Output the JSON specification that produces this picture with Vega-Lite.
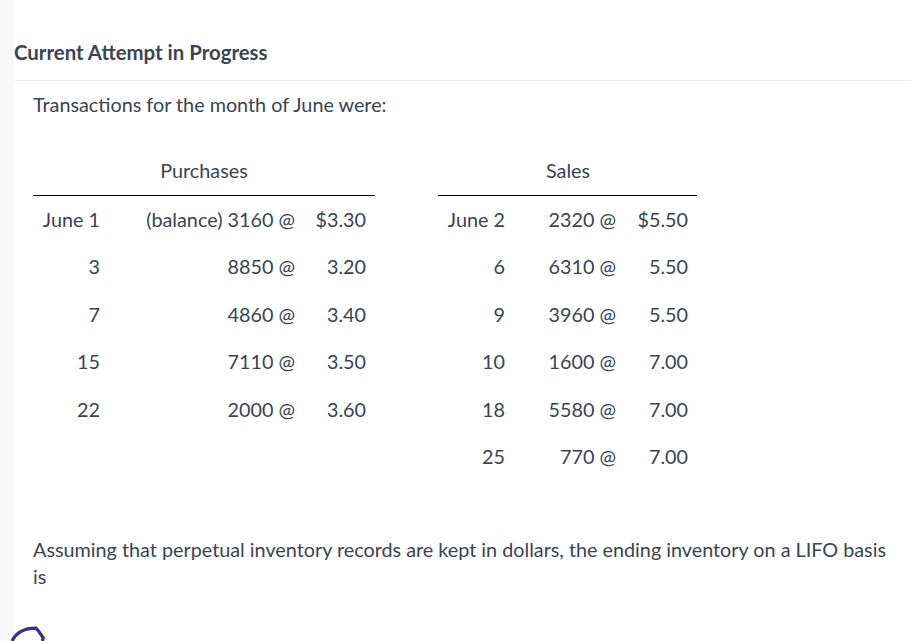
{
  "$schema": "https://vega.github.io/schema/vega-lite/v6.json",
  "width": 911,
  "height": 641,
  "padding": 0,
  "autosize": {"type": "fit", "contains": "padding"},
  "background": "white",
  "view": {"stroke": null},
  "config": {"text": {"font": "Lato", "fontSize": 19.8, "color": "#3a4452", "baseline": "alphabetic"}},
  "datasets": {
    "page": [
      {"style": "heading", "line": 1, "col": 1, "text": "Current Attempt in Progress"},
      {"style": "body", "line": 3, "col": 2, "text": "Transactions for the month of June were:"},
      {"style": "body", "line": 12, "col": 2, "text": "Assuming that perpetual inventory records are kept in dollars, the ending inventory on a LIFO basis"},
      {"style": "body", "line": 13, "col": 2, "text": "is"}
    ],
    "cells": [
      {"line": 4, "col": 4, "text": "Purchases", "align": "center"},
      {"line": 4, "col": 10, "text": "Sales", "align": "center"},
      {"line": 6, "col": 3, "text": "June 1"},
      {"line": 6, "col": 5, "text": "(balance) 3160 @"},
      {"line": 6, "col": 6, "text": "$3.30"},
      {"line": 7, "col": 3, "text": "3"},
      {"line": 7, "col": 5, "text": "8850 @"},
      {"line": 7, "col": 6, "text": "3.20"},
      {"line": 8, "col": 3, "text": "7"},
      {"line": 8, "col": 5, "text": "4860 @"},
      {"line": 8, "col": 6, "text": "3.40"},
      {"line": 9, "col": 3, "text": "15"},
      {"line": 9, "col": 5, "text": "7110 @"},
      {"line": 9, "col": 6, "text": "3.50"},
      {"line": 10, "col": 3, "text": "22"},
      {"line": 10, "col": 5, "text": "2000 @"},
      {"line": 10, "col": 6, "text": "3.60"},
      {"line": 6, "col": 9, "text": "June 2"},
      {"line": 6, "col": 11, "text": "2320 @"},
      {"line": 6, "col": 12, "text": "$5.50"},
      {"line": 7, "col": 9, "text": "6"},
      {"line": 7, "col": 11, "text": "6310 @"},
      {"line": 7, "col": 12, "text": "5.50"},
      {"line": 8, "col": 9, "text": "9"},
      {"line": 8, "col": 11, "text": "3960 @"},
      {"line": 8, "col": 12, "text": "5.50"},
      {"line": 9, "col": 9, "text": "10"},
      {"line": 9, "col": 11, "text": "1600 @"},
      {"line": 9, "col": 12, "text": "7.00"},
      {"line": 10, "col": 9, "text": "18"},
      {"line": 10, "col": 11, "text": "5580 @"},
      {"line": 10, "col": 12, "text": "7.00"},
      {"line": 11, "col": 9, "text": "25"},
      {"line": 11, "col": 11, "text": "770 @"},
      {"line": 11, "col": 12, "text": "7.00"}
    ],
    "rules": [
      {"name": "page", "line": 2, "col": 1, "to": 14},
      {"name": "Purchases", "line": 5, "col": 2, "to": 7},
      {"name": "Sales", "line": 5, "col": 8, "to": 13}
    ]
  },
  "encoding": {
    "x": {
      "field": "col",
      "type": "quantitative",
      "axis": null,
      "scale": {
        "domain": [0, 1, 2, 3, 4, 5, 6, 7, 8, 9, 10, 11, 12, 13, 14],
        "range": [0, 14, 33, 100, 204, 295, 366, 375, 438, 505, 568, 616, 688, 697, 911]
      }
    },
    "y": {
      "field": "line",
      "type": "quantitative",
      "axis": null,
      "scale": {
        "domain": [0, 1, 2, 3, 4, 5, 6, 11, 12, 13, 14],
        "range": [0, 60, 80.5, 112, 178, 195.5, 227, 464, 557, 584, 641]
      }
    }
  },
  "layer": [
    {
      "data": {"values": [{"col": 0, "to": 1, "line": 0, "bottom": 14}]},
      "mark": {"type": "rect", "color": "#f9f9f9"},
      "encoding": {
        "x2": {"field": "to"},
        "y2": {"field": "bottom"}
      }
    },
    {
      "data": {"name": "rules"},
      "mark": {"type": "rule", "strokeWidth": 1},
      "encoding": {
        "x2": {"field": "to"},
        "color": {"condition": {"test": "datum.name === 'page'", "value": "#eeeeee"}, "value": "#000000"}
      }
    },
    {
      "data": {"name": "page"},
      "transform": [{"filter": "datum.style === 'heading'"}],
      "mark": {"type": "text", "align": "left", "fontWeight": "bold", "fontSize": 20.4},
      "encoding": {"text": {"field": "text"}}
    },
    {
      "data": {"name": "page"},
      "transform": [{"filter": "datum.style === 'body'"}],
      "mark": {"type": "text", "align": "left"},
      "encoding": {"text": {"field": "text"}}
    },
    {
      "data": {"name": "cells"},
      "transform": [{"filter": "datum.align === 'center'"}],
      "mark": {"type": "text", "align": "center"},
      "encoding": {"text": {"field": "text"}}
    },
    {
      "data": {"name": "cells"},
      "transform": [{"filter": "datum.align !== 'center'"}],
      "mark": {"type": "text", "align": "right"},
      "encoding": {"text": {"field": "text"}}
    },
    {
      "data": {"values": [{"col": 1.737, "line": 14}]},
      "mark": {
        "type": "point",
        "shape": "M -1 0 C -0.7 -0.6 -0.2 -0.8 0.5 -0.8 C 0.7 -0.6 0.8 -0.4 0.95 -0.2 L 0.9 0",
        "filled": false,
        "opacity": 1,
        "stroke": "#3a3085",
        "strokeWidth": 3.2,
        "size": 1024
      }
    }
  ]
}
